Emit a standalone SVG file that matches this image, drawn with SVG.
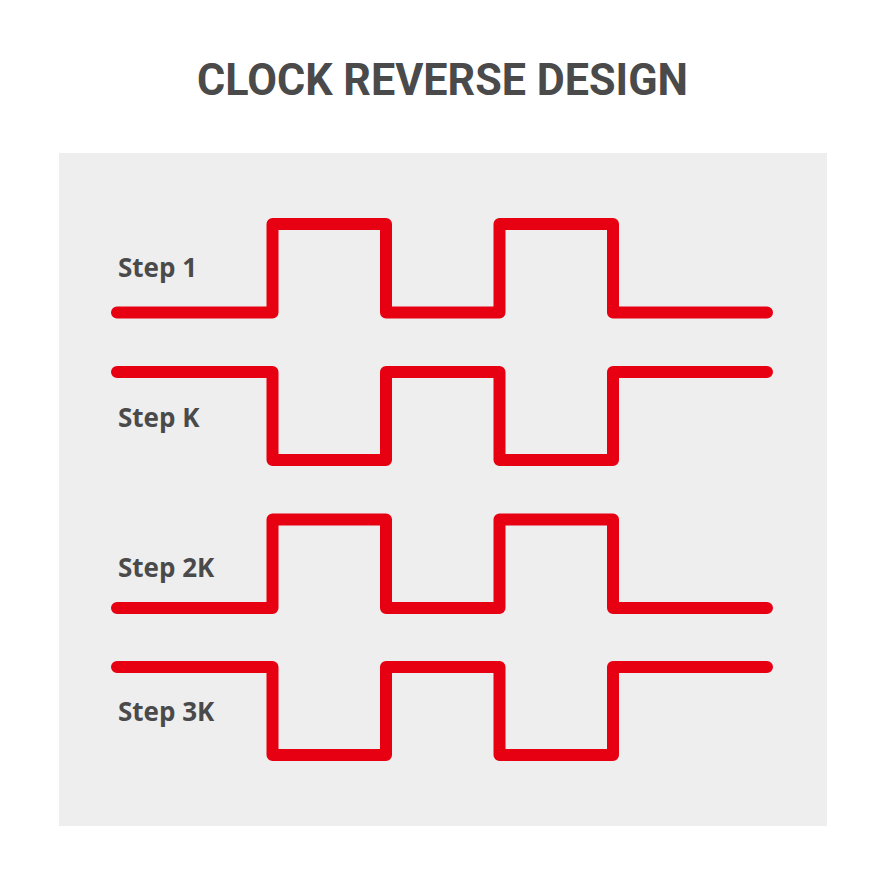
<svg xmlns="http://www.w3.org/2000/svg" width="886" height="886" viewBox="0 0 886 886">
<style>
.title{font-family:Roboto,"Liberation Sans",sans-serif;font-weight:700;font-size:45px;fill:#4a4a4a}
.lbl{font-family:"Open Sans","Liberation Sans",sans-serif;font-weight:700;font-size:26px;fill:#4a4a4a}
.wave{fill:none;stroke:#e60012;stroke-width:12;stroke-linecap:round;stroke-linejoin:round}
</style>
<rect x="0" y="0" width="886" height="886" fill="#ffffff"/>
<text class="title" x="197" y="95" textLength="491" lengthAdjust="spacingAndGlyphs">CLOCK REVERSE DESIGN</text>
<rect x="59" y="153" width="768" height="673" fill="#eeeeee"/>
<g id="step1"><text class="lbl" x="118" y="277">Step 1</text></g>
<g id="stepK"><text class="lbl" x="118" y="427">Step K</text></g>
<g id="step2K"><text class="lbl" x="118" y="577">Step 2K</text></g>
<g id="step3K"><text class="lbl" x="118" y="721">Step 3K</text></g>
<g id="connectors">
<path class="wave" d="M117 312.5 H272.5 V224 H386 V312.5 H499.5 V224 H613 V312.5 H767"/>
<path class="wave" d="M117 372 H272.5 V460 H386 V372 H499.5 V460 H613 V372 H767"/>
<path class="wave" d="M117 608 H272.5 V519.5 H386 V608 H499.5 V519.5 H613 V608 H767"/>
<path class="wave" d="M117 667 H272.5 V755 H386 V667 H499.5 V755 H613 V667 H767"/>
</g>
</svg>
